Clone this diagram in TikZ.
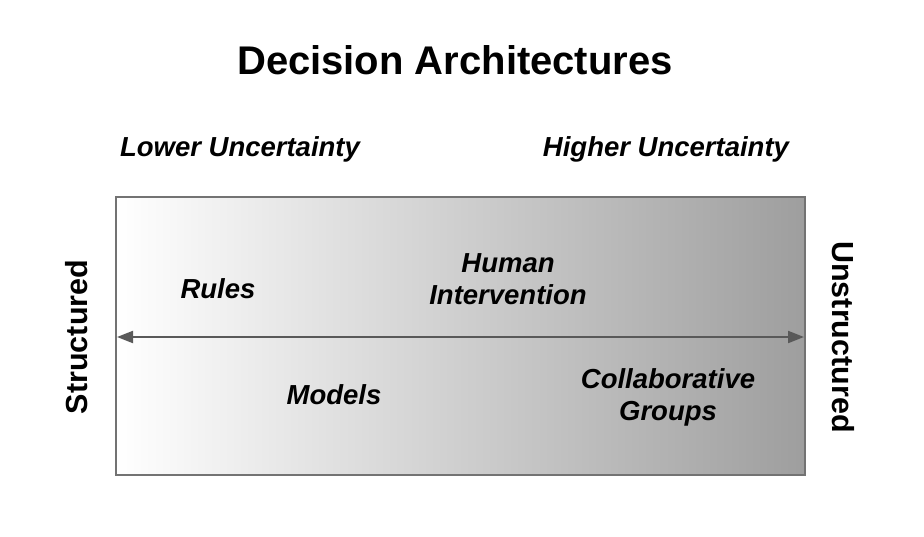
\documentclass[tikz,border=0pt]{standalone}
\usepackage{fontspec}
\setmainfont{Liberation Sans}
\usetikzlibrary{arrows.meta}
\begin{document}
\begin{tikzpicture}[x=1pt,y=-1pt,
  lbl/.style={font=\fontsize{27.5}{32}\selectfont\bfseries\itshape,align=center},
  side/.style={font=\fontsize{30.5}{34}\selectfont\bfseries}]
\useasboundingbox (0,0) rectangle (924,536);
\fill[white] (0,0) rectangle (924,536);
\shade[left color=white,right color=black!38] (116,197) rectangle (805,475);
\draw[black!55,line width=1.5pt] (116,197) rectangle (805,475);
\node[font=\fontsize{40}{44}\selectfont\bfseries] (title) at (455,60) {Decision Architectures};
\node[lbl] (lu) at (240,149) {Lower Uncertainty};
\node[lbl] (hu) at (666,149) {Higher Uncertainty};
\node[lbl] (r) at (218,289) {Rules};
\node[lbl] (h) at (508,279) {Human\\Intervention};
\node[lbl] (m) at (334,395) {Models};
\node[lbl] (c) at (668,397) {Collaborative\\Groups};
\node[side,rotate=90] (s) at (77,337) {Structured};
\node[side,rotate=-90] (u) at (843,337) {Unstructured};
\coordinate (a) at (117,337);
\coordinate (b) at (804,337);
\draw[black!65,line width=2pt,{Triangle[length=16pt,width=12pt]}-{Triangle[length=16pt,width=12pt]}] (a) -- (b);
\end{tikzpicture}
\end{document}
